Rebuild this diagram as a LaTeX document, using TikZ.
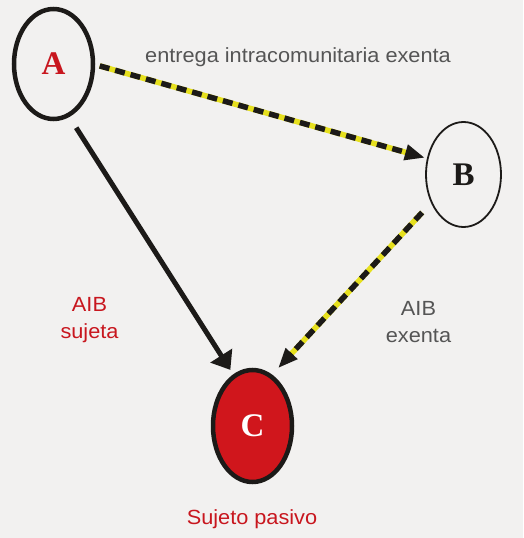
\documentclass[tikz,border=0pt]{standalone}
\usepackage{fontspec}
\setmainfont{Liberation Serif}
\newfontfamily\labelfont[FakeStretch=1.06]{Liberation Sans}
\usetikzlibrary{arrows.meta,shapes.geometric}
\definecolor{bgc}{HTML}{F2F1F0}
\definecolor{redc}{HTML}{C8161E}
\definecolor{cfill}{HTML}{D0161C}
\definecolor{grayt}{HTML}{555555}
\definecolor{yel}{HTML}{E6E01E}
\definecolor{blk}{HTML}{1C1A18}
\begin{document}
\begin{tikzpicture}[x=1pt,y=-1pt,
  ell/.style={ellipse,outer sep=0pt,inner sep=0pt,draw=blk},
  letter/.style={font=\fontsize{33}{33}\selectfont\bfseries},
  lbl/.style={font=\labelfont\fontsize{20.5}{27}\selectfont,align=center,anchor=base,inner sep=0pt},
  solidarrow/.style={draw=blk,line width=5pt,-{Triangle[length=17pt,width=25pt]}},
  yelbase/.style={draw=yel,line width=5.5pt},
  blkdash/.style={draw=blk,line width=5.5pt,dash pattern=on 10pt off 6pt,-{Triangle[length=20pt,width=15pt]}}
  ]
\useasboundingbox (0,0) rectangle (523,538);
\fill[bgc] (0,0) rectangle (523,538);
\node[ell,line width=4.5pt,minimum width=79pt,minimum height=110pt] (A) at (53.5,64) {};
\node[letter,text=redc] at (A.center) {A};
\node[ell,line width=1.8pt,minimum width=75pt,minimum height=105pt] (B) at (463.5,174.5) {};
\node[letter,text=blk] at (B.center) {B};
\node[ell,line width=4.5pt,fill=cfill,minimum width=79pt,minimum height=112pt] (C) at (252.5,426) {};
\node[letter,text=white] at (C.center) {C};
% A -> B
\draw[yelbase,shorten <=7pt,shorten >=14pt] (A.0) -- (B.156);
\draw[blkdash,shorten <=7pt,shorten >=3pt] (A.0) -- (B.156);
% B -> C
\draw[yelbase,shorten <=14pt,shorten >=22pt] (B.221) -- (C.70);
\draw[blkdash,shorten <=14pt,shorten >=11pt] (B.221) -- (C.70);
% A -> C
\draw[solidarrow,shorten <=15pt,shorten >=7.5pt] (A.286) -- (C.110);
% labels
\node[lbl,text=grayt] (t1) at (298,62) {entrega intracomunitaria exenta};
\node[lbl,text=redc] (t2) at (89.5,338) {AIB\\sujeta};
\node[lbl,text=grayt] (t3) at (418.5,342) {AIB\\exenta};
\node[lbl,text=redc] (t4) at (252,524) {Sujeto pasivo};
\end{tikzpicture}
\end{document}
